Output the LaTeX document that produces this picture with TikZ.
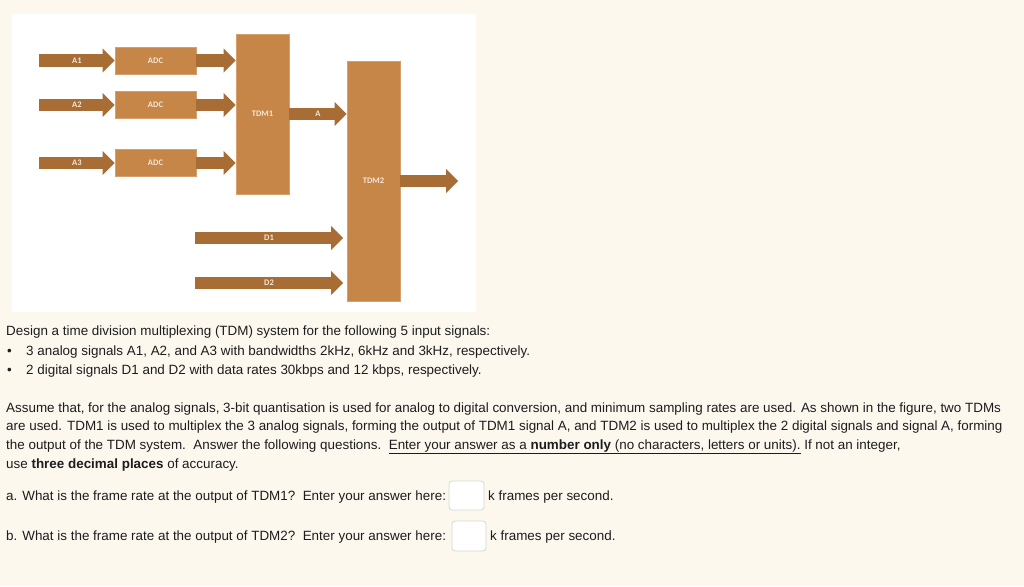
\documentclass[tikz,border=0pt]{standalone}
\usepackage{fontspec}
\setmainfont{Liberation Sans}
\newfontfamily\labelfont{Carlito}
\usetikzlibrary{arrows.meta}

\tikzset{
  block/.style={fill=boxc, draw=boxedge, line width=0.6pt, inner sep=0pt,
    text=lblc, font=\labelfont\bfseries\fontsize{8.5}{9}\selectfont},
  fatarrow/.style={draw=arrowc, line width=12.5pt,
    -{Triangle[length=12pt,width=24pt,line width=0pt]}},
  lbl/.style={text=lblc, font=\labelfont\bfseries\fontsize{8.5}{9}\selectfont, inner sep=0pt},
  qtext/.style={anchor=base west, inner sep=0pt, text=txtc,
    font=\fontsize{13.42}{16}\selectfont},
  ansbox/.style={draw=boxline, fill=white, rounded corners=3pt, inner sep=0pt,
    line width=0.8pt},
}

\begin{document}
\begin{tikzpicture}[x=1pt,y=-1pt]
% Define colours
\definecolor{pagec}{RGB}{253,248,238}
\definecolor{boxc}{RGB}{198,134,72}
\definecolor{boxedge}{RGB}{214,160,110}
\definecolor{arrowc}{RGB}{168,108,53}
\definecolor{lblc}{RGB}{246,232,214}
\definecolor{txtc}{RGB}{29,29,31}
\definecolor{boxline}{RGB}{216,214,210}

% Page and figure panel
\fill[pagec] (0,0) rectangle (1024,586);
\fill[white] (12,14) rectangle (476,312);
\useasboundingbox (0,0) rectangle (1024,586);

% Draw blocks
\node[block, minimum width=81pt, minimum height=27pt] (adc1) at (155.5,60.5) {ADC};
\node[block, minimum width=81pt, minimum height=27pt] (adc2) at (155.5,105) {ADC};
\node[block, minimum width=81pt, minimum height=27pt] (adc3) at (155.5,163) {ADC};
\node[block, minimum width=53pt, minimum height=160pt] (tdm1) at (262.5,114) {TDM1};
\node[block, minimum width=53pt, minimum height=240pt] (tdm2) at (373.5,181) {TDM2};

% Free arrow ends
\coordinate (a1in) at (39,60.5);
\coordinate (a2in) at (39,105);
\coordinate (a3in) at (39,163);
\coordinate (d1in) at (195,238);
\coordinate (d2in) at (195,283);
\coordinate (d1end) at (343,238);
\coordinate (d2end) at (343,283);
\coordinate (out) at (458,181);

% Draw signal arrows
\draw[fatarrow] (a1in) -- (adc1.west) node[midway,lbl] {A1};
\draw[fatarrow] (a2in) -- (adc2.west) node[midway,lbl] {A2};
\draw[fatarrow] (a3in) -- (adc3.west) node[midway,lbl] {A3};
\draw[fatarrow] (adc1.east) -- (adc1.east -| tdm1.west);
\draw[fatarrow] (adc2.east) -- (adc2.east -| tdm1.west);
\draw[fatarrow] (adc3.east) -- (adc3.east -| tdm1.west);
\draw[fatarrow] (tdm1.east) -- (tdm1.east -| tdm2.west) node[midway,lbl] {A};
\draw[fatarrow] (d1in) -- (d1end) node[midway,lbl] {D1};
\draw[fatarrow] (d2in) -- (d2end) node[midway,lbl] {D2};
\draw[fatarrow] (tdm2.east) -- (out);

% Question text
\node[qtext] (intro) at (6,335) {Design a time division multiplexing (TDM) system for the following 5 input signals:};
\node[qtext, anchor=base] (dot1) at (9.5,355.5) {\textbullet};
\node[qtext] (item1) at (26,355.5) {3 analog signals A1, A2, and A3 with bandwidths 2kHz, 6kHz and 3kHz, respectively.};
\node[qtext, anchor=base] (dot2) at (9.5,374.5) {\textbullet};
\node[qtext] (item2) at (26,374.5) {2 digital signals D1 and D2 with data rates 30kbps and 12 kbps, respectively.};

\node[qtext] (par1) at (6,412) {Assume that, for the analog signals, 3-bit quantisation is used for analog to digital conversion, and minimum sampling rates are used. As shown in the figure, two TDMs};
\node[qtext] (par2) at (6,430.5) {are used. TDM1 is used to multiplex the 3 analog signals, forming the output of TDM1 signal A, and TDM2 is used to multiplex the 2 digital signals and signal A, forming};
\node[qtext] (par3) at (6,449) {the output of the TDM system.\ \ Answer the following questions.\ \ \underline{Enter your answer as a \textbf{number only} (no characters, letters or units).} If not an integer,};
\node[qtext] (par4) at (6,468) {use \textbf{three decimal places} of accuracy.};

% Answer fields
\node[qtext] (qa) at (6,500) {a. What is the frame rate at the output of TDM1?\ \ Enter your answer here:};
\node[ansbox, minimum width=35pt, minimum height=29pt] (ansa) at (466.5,495.5) {};
\node[qtext] (unita) at (488,500) {k frames per second.};
\node[qtext] (qb) at (6,540) {b. What is the frame rate at the output of TDM2?\ \ Enter your answer here:};
\node[ansbox, minimum width=34pt, minimum height=30pt] (ansb) at (469,536) {};
\node[qtext] (unitb) at (490,540) {k frames per second.};
\end{tikzpicture}
\end{document}
